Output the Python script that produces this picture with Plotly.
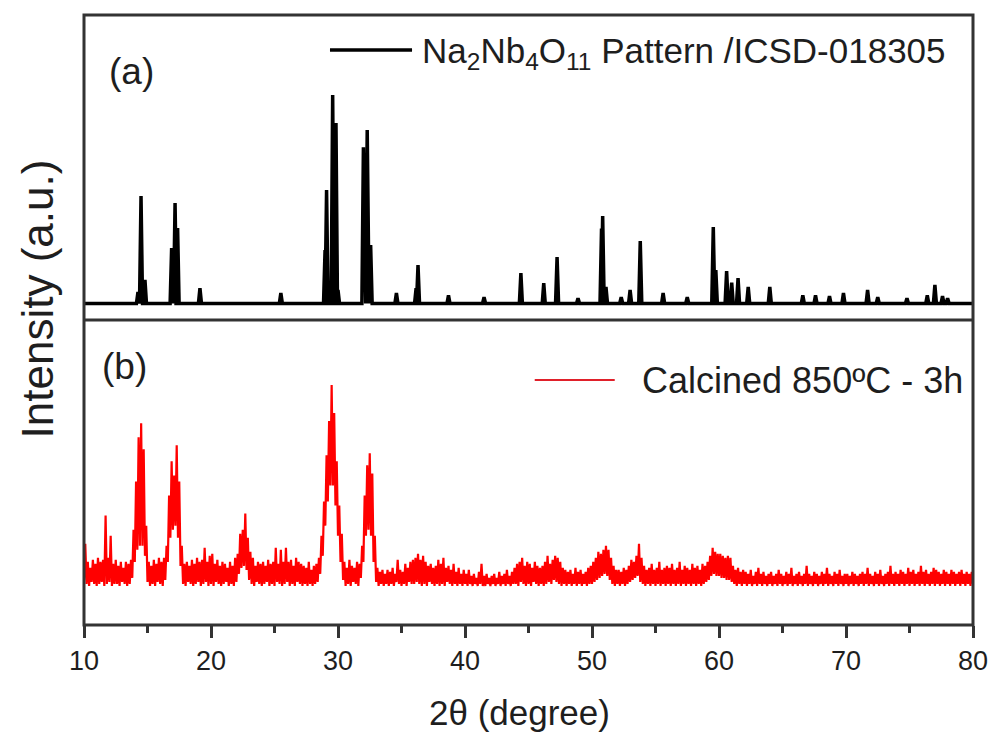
import plotly.graph_objects as go

# ---------------- data ----------------
# (a) reference pattern Na2Nb4O11 / ICSD-018305 : peak positions (2theta) and relative intensities
ref_pos = [14.25, 14.49, 14.8, 16.9, 17.17, 17.37, 19.13, 25.5, 28.98, 29.1, 29.58, 29.84, 30.0,
           32.0, 32.3, 32.57, 34.6, 36.15, 36.3, 38.7, 41.5, 44.4, 46.2, 47.25, 48.9, 50.75, 50.84,
           51.1, 52.3, 53.0, 53.8, 55.6, 57.5, 59.55, 59.75, 60.6, 61.0, 61.5, 62.3, 64.0, 66.6,
           67.6, 68.7, 69.8, 71.7, 72.5, 74.8, 76.4, 77.0, 77.6, 78.0]
ref_int = [5.5, 51.6, 11.3, 26.6, 48.2, 36.2, 7.4, 5.0, 25.7, 54.4, 100.0, 86.6, 6.5,
           75.0, 83.2, 28.0, 5.0, 7.4, 18.5, 4.0, 3.0, 14.6, 9.8, 22.3, 2.6, 36.0, 42.0,
           8.0, 3.0, 6.5, 30.0, 5.0, 3.0, 36.7, 16.0, 15.6, 10.0, 12.2, 8.0, 8.0, 4.0,
           4.0, 3.6, 5.0, 6.5, 3.0, 2.6, 4.0, 8.9, 3.6, 2.6]

# (b) calcined 850 C - 3h : measured counts (a.u.), lower samples at 10.0, 10.2 ... 80.0
calc_lo = [
    3, 1, 0, 2, 1, 0, 1, 2, 0, 1,
    2, 0, 1, 1, 0, 2, 1, 0, 1, 4,
    12, 18, 20, 20, 15, 2, 0, 1, 0, 2,
    1, 0, 3, 12, 24, 28, 30, 24, 10, 1,
    0, 2, 1, 0, 1, 2, 0, 1, 2, 0,
    1, 0, 2, 1, 0, 1, 2, 0, 1, 0,
    2, 6, 9, 10, 8, 3, 1, 0, 2, 1,
    0, 1, 2, 0, 1, 0, 2, 1, 0, 1,
    2, 0, 1, 0, 2, 1, 0, 1, 0, 1,
    0, 1, 2, 6, 15, 30, 42, 50, 50, 40,
    25, 12, 3, 0, 1, 0, 2, 1, 0, 4,
    12, 25, 28, 25, 12, 2, 0, 1, 0, 1,
    0, 1, 0, 2, 1, 0, 1, 0, 2, 1,
    1, 2, 1, 0, 1, 0, 2, 1, 0, 1,
    0, 1, 0, 2, 1, 0, 1, 0, 1, 0,
    1, 0, 1, 0, 1, 0, 1, 0, 0, 1,
    0, 1, 0, 1, 0, 1, 0, 1, 0, 1,
    1, 0, 2, 1, 0, 1, 0, 2, 1, 0,
    1, 0, 1, 2, 1, 3, 2, 1, 0, 1,
    0, 1, 0, 1, 0, 1, 0, 1, 0, 1,
    1, 2, 3, 4, 5, 6, 5, 3, 1, 0,
    1, 0, 1, 0, 1, 2, 3, 4, 5, 2,
    1, 0, 1, 0, 1, 0, 1, 0, 1, 0,
    1, 0, 1, 0, 1, 0, 1, 0, 1, 0,
    1, 0, 1, 0, 1, 2, 3, 5, 6, 5,
    5, 4, 4, 3, 3, 2, 1, 0, 1, 0,
    1, 0, 1, 0, 1, 0, 1, 0, 1, 0,
    1, 0, 1, 0, 1, 0, 1, 0, 1, 0,
    1, 0, 1, 0, 1, 0, 1, 0, 1, 0,
    1, 0, 1, 0, 1, 0, 1, 0, 1, 0,
    1, 0, 1, 0, 1, 0, 1, 0, 1, 0,
    1, 0, 1, 0, 1, 0, 1, 0, 1, 0,
    1, 0, 1, 0, 1, 0, 1, 0, 1, 0,
    1, 0, 1, 0, 1, 0, 1, 0, 1, 0,
    1, 0, 1, 0, 1, 0, 1, 0, 1, 0,
    1]
# upper samples at 10.1, 10.3 ... 79.9
calc_hi = [
    21, 12, 9, 13, 11, 14, 12, 13, 35, 14,
    25, 11, 13, 10, 12, 9, 12, 11, 13, 28,
    52, 74, 81, 68, 30, 12, 10, 13, 11, 14,
    12, 14, 20, 45, 62, 55, 70, 52, 20, 11,
    12, 10, 13, 11, 14, 12, 13, 19, 12, 15,
    16, 11, 13, 10, 12, 11, 9, 12, 10, 14,
    16, 26, 28, 36, 24, 17, 14, 10, 12, 11,
    12, 10, 13, 11, 12, 19, 11, 18, 12, 19,
    12, 13, 10, 14, 12, 11, 10, 9, 12, 8,
    10, 11, 14, 25, 42, 65, 82, 100, 86, 62,
    40, 26, 12, 9, 13, 10, 9, 12, 11, 20,
    45, 60, 66, 56, 25, 9, 7, 8, 6, 8,
    7, 9, 6, 13, 8, 7, 11, 9, 12, 13,
    14, 16, 13, 15, 12, 10, 11, 9, 10, 13,
    11, 14, 9, 10, 8, 11, 7, 9, 6, 8,
    6, 8, 5, 6, 4, 7, 11, 5, 6, 4,
    5, 6, 4, 7, 5, 6, 8, 5, 7, 9,
    11, 12, 14, 10, 12, 11, 9, 12, 10, 9,
    10, 12, 15, 11, 13, 15, 14, 12, 9, 8,
    7, 8, 6, 9, 7, 8, 6, 7, 9, 10,
    12, 14, 17, 16, 18, 20, 18, 14, 10, 8,
    8, 7, 9, 8, 10, 13, 12, 15, 21, 14,
    10, 8, 9, 11, 8, 9, 12, 8, 9, 10,
    9, 11, 8, 9, 12, 8, 10, 9, 8, 11,
    9, 10, 8, 11, 10, 12, 15, 19, 17, 16,
    16, 15, 14, 15, 14, 10, 8, 9, 7, 8,
    7, 6, 8, 5, 7, 9, 6, 7, 5, 6,
    7, 5, 6, 8, 6, 5, 7, 6, 9, 5,
    6, 7, 5, 6, 10, 6, 5, 7, 6, 5,
    7, 6, 9, 6, 5, 7, 6, 8, 5, 6,
    6, 5, 7, 6, 5, 6, 7, 6, 9, 6,
    5, 7, 6, 8, 5, 6, 7, 10, 6, 7,
    6, 8, 7, 6, 9, 7, 8, 6, 7, 10,
    7, 8, 6, 7, 9, 8, 7, 6, 8, 7,
    6, 8, 7, 6, 7, 8, 6, 7, 6, 7]

x_ticks = [10, 20, 30, 40, 50, 60, 70, 80]
x_title = "2θ (degree)"
y_title = "Intensity (a.u.)"
ref_label = "Na<sub>2</sub>Nb<sub>4</sub>O<sub>11</sub> Pattern /ICSD-018305"
calc_label = "Calcined 850ºC - 3h"

# ---------------- build series ----------------
x_ref, y_ref = [10.0], [0.0]
for p, h in zip(ref_pos, ref_int):
    x_ref += [p - 0.12, p, p + 0.12]
    y_ref += [0.0, h, 0.0]
x_ref.append(80.0)
y_ref.append(0.0)

pts = [(round(10.0 + 0.2 * i, 2), v) for i, v in enumerate(calc_lo)]
pts += [(round(10.1 + 0.2 * i, 2), v) for i, v in enumerate(calc_hi)]
pts.sort()
x_calc = [p[0] for p in pts]
y_calc = [p[1] for p in pts]

# ---------------- figure ----------------
INK = "#1e1e1e"
FRAME = "#333333"
FONT = "Liberation Sans, Arial, sans-serif"

fig = go.Figure()
fig.add_trace(go.Scatter(x=x_ref, y=y_ref, mode="lines", yaxis="y2",
                         line=dict(color="#000000", width=3.5), showlegend=False,
                         name="Na2Nb4O11"))
fig.add_trace(go.Scatter(x=x_calc, y=y_calc, mode="lines", yaxis="y",
                         line=dict(color="#ff0000", width=2.2), showlegend=False,
                         name="Calcined"))

fig.update_layout(
    width=1003, height=737,
    margin=dict(l=84, r=30, t=15, b=112),
    paper_bgcolor="white", plot_bgcolor="white",
    showlegend=False,
    xaxis=dict(range=[10, 80], domain=[0, 1], anchor="y",
               tickvals=x_ticks, ticks="outside", ticklen=12, tickwidth=2.5,
               tickcolor=FRAME, showgrid=False, zeroline=False, showline=False,
               tickfont=dict(family="Liberation Sans Narrow, Arial Narrow, Liberation Sans, Arial",
                             size=27, color=INK),
               minor=dict(dtick=5, tick0=10, ticks="outside", ticklen=7,
                          tickwidth=2.5, tickcolor=FRAME, showgrid=False)),
    yaxis=dict(domain=[0, 0.5], range=[-19.4, 132.3], showticklabels=False,
               ticks="", showgrid=False, zeroline=False, showline=False),
    yaxis2=dict(domain=[0.5, 1], range=[-7.9, 138.4], anchor="x",
                showticklabels=False, ticks="", showgrid=False,
                zeroline=False, showline=False),
)

shapes = [
    dict(type="rect", xref="paper", yref="paper", x0=0, x1=1, y0=0, y1=1,
         line=dict(color=FRAME, width=3)),
    dict(type="line", xref="paper", yref="paper", x0=0, x1=1, y0=0.5, y1=0.5,
         line=dict(color=FRAME, width=3)),
    # legend keys
    dict(type="line", xref="paper", yref="paper", x0=0.2767, x1=0.369,
         y0=0.9426, y1=0.9426, line=dict(color="#000000", width=3.5)),
    dict(type="line", xref="paper", yref="paper", x0=0.507, x1=0.597,
         y0=0.4016, y1=0.4016, line=dict(color="#e0202a", width=2)),
]
fig.update_layout(shapes=shapes)

annotations = [
    dict(text=ref_label, xref="paper", yref="paper", x=0.378, y=0.938,
         xanchor="left", yanchor="middle", showarrow=False,
         font=dict(family=FONT, size=35, color=INK)),
    dict(text=calc_label, xref="paper", yref="paper", x=0.6254, y=0.4016,
         xanchor="left", yanchor="middle", showarrow=False,
         font=dict(family=FONT, size=36, color=INK)),
    dict(text="(a)", xref="paper", yref="paper", x=0.0529, y=0.9066,
         xanchor="center", yanchor="middle", showarrow=False,
         font=dict(family=FONT, size=37, color=INK)),
    dict(text="(b)", xref="paper", yref="paper", x=0.045, y=0.423,
         xanchor="center", yanchor="middle", showarrow=False,
         font=dict(family=FONT, size=37, color=INK)),
    dict(text=y_title, xref="paper", yref="paper", x=-0.052, y=0.535,
         xanchor="center", yanchor="middle", textangle=-90, showarrow=False,
         font=dict(family=FONT, size=44, color=INK)),
    dict(text=x_title, xref="paper", yref="paper", x=0.49, y=-0.143,
         xanchor="center", yanchor="middle", showarrow=False,
         font=dict(family=FONT, size=35, color=INK)),
]
fig.update_layout(annotations=annotations)

fig.write_html("out.html")
